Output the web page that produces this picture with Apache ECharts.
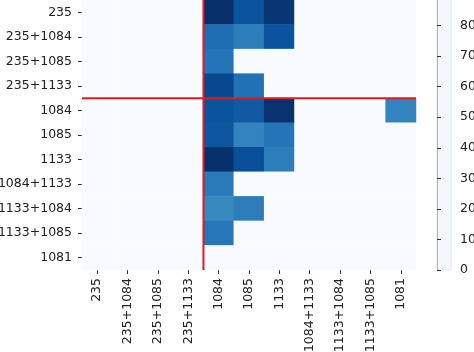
<!DOCTYPE html>
<html>
<head>
<meta charset="utf-8">
<script src="https://cdn.jsdelivr.net/npm/echarts@6/dist/echarts.min.js"></script>
<style>html,body{margin:0;padding:0;background:#fff;}#c{width:474px;height:352px;}</style>
</head>
<body>
<div id="c"></div>
<script>
const categories = ['235','235+1084','235+1085','235+1133','1084','1085','1133','1084+1133','1133+1084','1133+1085','1081'];
// rows (y, top to bottom) x columns (x, left to right)
const row235      = [0,0,0,0,88,76,86,0,0,0,0];
const row235_1084 = [0,0,0,0,67,62,76,0,0,0,0];
const row235_1085 = [0,0,0,0,65,0,0,0,0,0,0];
const row235_1133 = [0,0,0,0,80,66,0,0,0,0,0];
const row1084     = [0,0,0,0,76,74,87,0,0,0,60];
const row1085     = [0,0,0,0,75,60,65,0,0,0,0];
const row1133     = [0,0,0,0,88,78,62,0,0,0,0];
const row1084_1133= [0,0,0,0,63,0,0,0,0,0,0];
const row1133_1084= [0,0,0,0,58,62,0,0,0,0,0];
const row1133_1085= [0,0,0,0,64,0,0,0,0,0,0];
const row1081     = [0,0,0,0,0,0,0,0,0,0,0];
const matrix = [row235,row235_1084,row235_1085,row235_1133,row1084,row1085,row1133,row1084_1133,row1133_1084,row1133_1085,row1081];
const colorbarTicks = [0,10,20,30,40,50,60,70,80];
const vMin = 0, vMax = 88;
const splitPos = 3.5;

const heatData = [];
matrix.forEach((row, yi) => row.forEach((v, xi) => heatData.push([xi, yi, v])));

const font = 'DejaVu Sans';
const fs = 12.5;
const chart = echarts.init(document.getElementById('c'), null, {renderer: 'canvas'});
chart.setOption({
  animation: false,
  backgroundColor: '#ffffff',
  textStyle: {fontFamily: font},
  grid: [
    {left: 82, right: 58, top: 0, bottom: 82, containLabel: false, outerBoundsMode: 'none'},
    {left: 82, right: 58, top: 0, bottom: 82, containLabel: false, outerBoundsMode: 'none'},
    {left: 437, width: 14, top: -5, bottom: 82, show: true, backgroundColor: '#f4f8fc', borderColor: '#dfe8f2', borderWidth: 1, containLabel: false, outerBoundsMode: 'none'}
  ],
  xAxis: [
    {type: 'category', gridIndex: 0, data: categories, position: 'bottom',
     axisLine: {show: false}, splitLine: {show: false},
     axisTick: {show: true, alignWithLabel: true, length: 4, lineStyle: {color: '#333'}},
     axisLabel: {rotate: 90, margin: 8, fontSize: fs, color: '#222', fontFamily: font}},
    {type: 'value', gridIndex: 1, min: -0.5, max: 10.5, show: false},
    {type: 'value', gridIndex: 2, min: 0, max: 1, show: false}
  ],
  yAxis: [
    {type: 'category', gridIndex: 0, data: categories, inverse: true,
     axisLine: {show: false}, splitLine: {show: false},
     axisTick: {show: true, alignWithLabel: true, length: 4, lineStyle: {color: '#333'}},
     axisLabel: {margin: 10, fontSize: fs, color: '#222', fontFamily: font}},
    {type: 'value', gridIndex: 1, min: -0.5, max: 10.5, inverse: true, show: false},
    {type: 'value', gridIndex: 2, min: 0, max: 90, interval: 10, position: 'right',
     axisLine: {show: true, lineStyle: {color: '#a4b2c2', width: 1}},
     axisTick: {show: true, length: 4, lineStyle: {color: '#333'}},
     splitLine: {show: false},
     axisLabel: {margin: 9, fontSize: fs, color: '#222', fontFamily: font,
       formatter: v => colorbarTicks.indexOf(v) >= 0 ? String(v) : ''}}
  ],
  visualMap: {
    show: false, type: 'continuous', min: vMin, max: vMax, seriesIndex: 0, dimension: 2,
    inRange: {color: ['#f7fbff','#deebf7','#c6dbef','#9ecae1','#6baed6','#4292c6','#2171b5','#08519c','#08306b']}
  },
  series: [
    {type: 'heatmap', xAxisIndex: 0, yAxisIndex: 0, data: heatData, silent: true,
     itemStyle: {borderWidth: 0}, emphasis: {disabled: true}},
    {type: 'line', xAxisIndex: 1, yAxisIndex: 1, silent: true, symbol: 'none',
     data: [[splitPos, -0.5], [splitPos, 10.5]],
     lineStyle: {color: '#e31a1c', width: 2}},
    {type: 'line', xAxisIndex: 1, yAxisIndex: 1, silent: true, symbol: 'none',
     data: [[-0.5, splitPos], [10.5, splitPos]],
     lineStyle: {color: '#e31a1c', width: 2}},
    {type: 'scatter', xAxisIndex: 2, yAxisIndex: 2, data: [], silent: true}
  ]
});
</script>
</body>
</html>
